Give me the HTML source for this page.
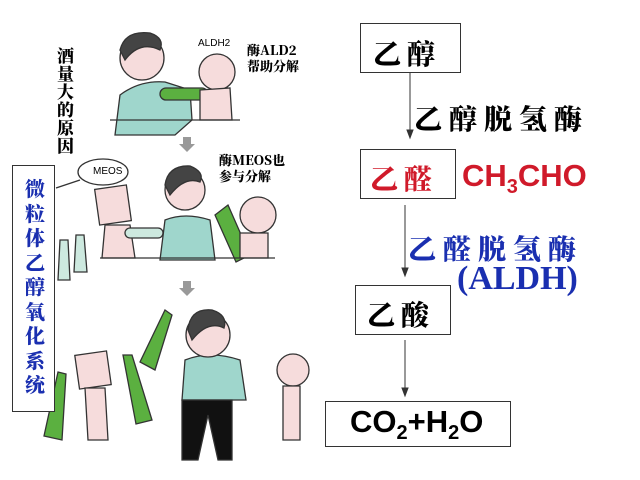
<!DOCTYPE html>
<html><head><meta charset="utf-8"><style>
body{margin:0;width:640px;height:480px;background:#fff;overflow:hidden;position:relative;font-family:"Liberation Sans","Noto Sans CJK SC",sans-serif}
.a{position:absolute}
.box{position:absolute;border:1.5px solid #333;background:#fff;box-sizing:border-box}
.cj{font-family:"Noto Serif CJK SC","Noto Sans CJK SC",serif;font-weight:900}
</style></head><body>
<svg class="a" style="left:0;top:0" width="640" height="480">
<g stroke="#333" stroke-width="1" fill="#333">
<line x1="410" y1="73" x2="410" y2="132"/><polygon points="407,130 413,130 410,138"/>
<line x1="405" y1="205" x2="405" y2="270"/><polygon points="402,268 408,268 405,276"/>
<line x1="405" y1="340" x2="405" y2="390"/><polygon points="402,388 408,388 405,396"/>
</g>
<g fill="#999"><rect x="183" y="137" width="8" height="7"/><polygon points="179,144 195,144 187,152"/>
<rect x="183" y="281" width="8" height="7"/><polygon points="179,288 195,288 187,296"/></g>
<g stroke="#333" stroke-width="1.3">
<path d="M115,135 L120,95 Q140,80 165,82 L190,90 L192,120 L175,135 Z" fill="#9fd6cc"/>
<circle cx="142" cy="58" r="22" fill="#f6dcdc"/>
<path d="M120,50 Q125,30 150,33 Q165,38 160,50 Q140,40 125,60 Z" fill="#444"/>
<rect x="160" y="88" width="48" height="12" rx="6" fill="#5bb040"/>
<circle cx="217" cy="72" r="18" fill="#f6dcdc"/>
<path d="M200,90 L230,88 L232,120 L200,120 Z" fill="#f6dcdc"/>
<line x1="110" y1="120" x2="240" y2="120"/>
<ellipse cx="103" cy="172" rx="25" ry="13" fill="#fff"/>
<line x1="80" y1="180" x2="56" y2="188"/>
<rect x="97" y="187" width="32" height="36" fill="#f6dcdc" transform="rotate(-8 113 205)"/>
<path d="M105,225 L130,225 L135,258 L102,258 Z" fill="#f6dcdc"/>
<path d="M60,240 L68,240 L70,280 L58,280 Z" fill="#cde9df"/>
<path d="M76,235 L84,235 L87,272 L74,272 Z" fill="#cde9df"/>
<path d="M160,260 L165,220 Q185,212 210,220 L215,260 Z" fill="#9fd6cc"/>
<rect x="125" y="228" width="38" height="10" rx="5" fill="#cde9df"/>
<circle cx="185" cy="190" r="20" fill="#f6dcdc"/>
<path d="M165,185 Q168,165 190,166 Q205,172 200,182 Q185,176 170,195 Z" fill="#444"/>
<path d="M215,215 L228,205 L250,255 L236,262 Z" fill="#5bb040"/>
<circle cx="258" cy="215" r="18" fill="#f6dcdc"/>
<path d="M240,233 L268,233 L268,258 L240,258 Z" fill="#f6dcdc"/>
<line x1="100" y1="258" x2="275" y2="258"/>
<path d="M182,400 L185,360 Q210,350 240,360 L246,400 Z" fill="#9fd6cc"/>
<path d="M182,400 L232,400 L232,460 L218,460 L208,415 L198,460 L182,460 Z" fill="#111"/>
<circle cx="208" cy="335" r="22" fill="#f6dcdc"/>
<path d="M188,330 Q190,308 212,310 Q228,315 224,328 Q208,320 192,340 Z" fill="#444"/>
<path d="M165,310 L172,315 L155,370 L140,362 Z" fill="#5bb040"/>
<path d="M58,372 L66,374 L62,440 L44,436 Z" fill="#5bb040"/>
<path d="M123,355 L132,355 L152,420 L136,424 Z" fill="#5bb040"/>
<rect x="77" y="353" width="32" height="34" fill="#f6dcdc" transform="rotate(-8 93 370)"/>
<path d="M85,388 L105,388 L108,440 L88,440 Z" fill="#f6dcdc"/>
<circle cx="293" cy="370" r="16" fill="#f6dcdc"/>
<path d="M283,386 L300,386 L300,440 L283,440 Z" fill="#f6dcdc"/>
</g>
</svg>
<div class="a" style="left:198px;top:38px;font-size:10px">ALDH2</div>
<div class="a cj" style="left:247px;top:42px;font-size:13px;line-height:16px">酶ALD2<br>帮助分解</div>
<div class="a" style="left:93px;top:166px;font-size:10px">MEOS</div>
<div class="a cj" style="left:219px;top:152px;font-size:13px;line-height:16px">酶MEOS也<br>参与分解</div>
<div class="a cj" style="left:57px;top:46px;width:18px;font-size:17px;line-height:18px">酒量大的原因</div>
<div class="box" style="left:12px;top:165px;width:43px;height:247px;border-width:1px"></div>
<div class="a cj" style="left:23px;top:176px;width:24px;font-size:20px;line-height:24.5px;color:#1a2fb0;text-align:center">微粒体乙醇氧化系统</div>
<div class="box" style="left:360px;top:23px;width:101px;height:50px"></div>
<div class="a cj" style="left:373px;top:33px;font-size:28px;letter-spacing:6px">乙醇</div>
<div class="a cj" style="left:414px;top:98px;font-size:28px;letter-spacing:7px">乙醇脱氢酶</div>
<div class="box" style="left:360px;top:149px;width:96px;height:50px"></div>
<div class="a cj" style="left:370px;top:158px;font-size:28px;letter-spacing:6px;color:#d01a2a">乙醛</div>
<div class="a" style="left:462px;top:158px;font-size:31px;font-weight:bold;color:#d01a2a">CH<sub style="font-size:20px">3</sub>CHO</div>
<div class="a cj" style="left:408px;top:228px;font-size:28px;letter-spacing:7px;color:#1a2fb0">乙醛脱氢酶</div>
<div class="a" style="left:457px;top:260px;font-size:34px;font-weight:bold;color:#1a2fb0;font-family:'Liberation Serif',serif">(ALDH)</div>
<div class="box" style="left:355px;top:285px;width:96px;height:50px"></div>
<div class="a cj" style="left:367px;top:294px;font-size:28px;letter-spacing:6px">乙酸</div>
<div class="box" style="left:325px;top:401px;width:186px;height:46px"></div>
<div class="a" style="left:350px;top:404px;font-size:31px;font-weight:bold">CO<sub style="font-size:20px">2</sub>+H<sub style="font-size:20px">2</sub>O</div>
</body></html>
